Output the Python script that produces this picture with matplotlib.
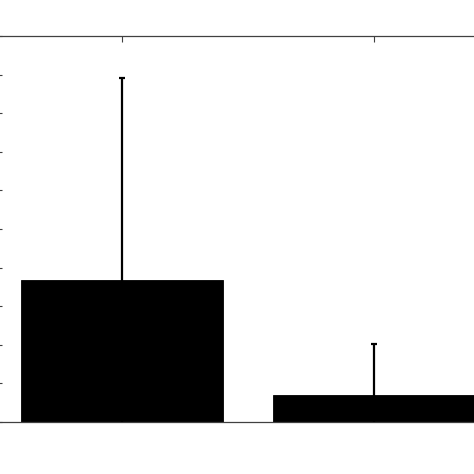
import matplotlib
matplotlib.use("Agg")
import matplotlib.pyplot as plt

categories = [1, 2]
means = [3.68, 0.70]
errors = [5.23, 1.32]
yticks = list(range(0, 11))

dpi = 100
fig = plt.figure(figsize=(4.74, 4.74), dpi=dpi)
W = H = 474.0
left_px, right_px = -4, 500
bottom_px, top_px = 422, 36
ax = fig.add_axes([left_px / W, (H - bottom_px) / H,
                   (right_px - left_px) / W, (bottom_px - top_px) / H])

ax.bar(categories, means, width=0.8, color="black", edgecolor="black",
       linewidth=0.6, zorder=2)
ax.errorbar(categories, means, yerr=errors, fmt="none", ecolor="black",
            elinewidth=1.6, capsize=2.5, capthick=1.6, zorder=3)

ax.set_xlim(0.5, 2.5)
ax.set_ylim(0, 10)
ax.set_xticks(categories)
ax.set_yticks(yticks)
ax.set_xticklabels([])
ax.set_yticklabels([])
tl = 6 * 72 / dpi
ax.tick_params(direction="in", length=tl, width=0.8, color="#404040",
               top=True, right=True, bottom=True, left=True)
for s in ax.spines.values():
    s.set_color("#404040")
    s.set_linewidth(0.9)

fig.savefig("out.png", dpi=dpi)
